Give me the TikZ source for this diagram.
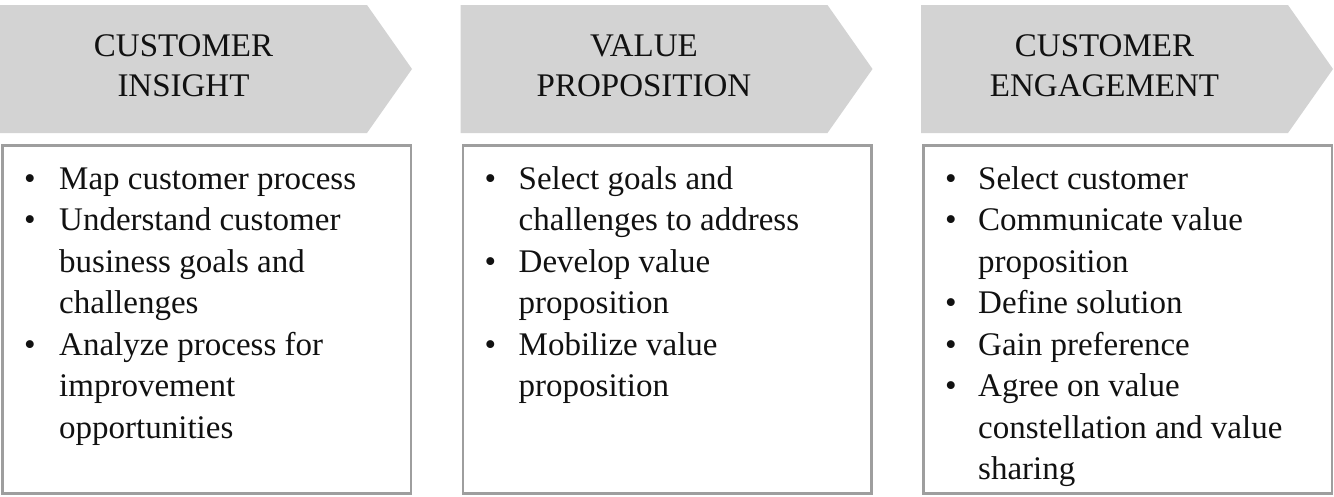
\documentclass[tikz,border=0pt]{standalone}
\usepackage{fontspec}
\setmainfont{Liberation Serif}
\usepackage{array}
\definecolor{chevron}{HTML}{D3D3D3}
\definecolor{frame}{HTML}{9E9E9E}
\definecolor{ink}{HTML}{111111}
\newcommand{\bl}{\textbullet}
\begin{document}
\begin{tikzpicture}[x=1pt,y=-1pt,
  chev/.style={fill=chevron,draw=none},
  framebox/.style={draw=frame,line width=2.5pt},
  head/.style={align=center,text=ink,inner sep=0pt,anchor=center,
    font=\fontsize{33}{40}\selectfont},
  items/.style={anchor=north west,inner sep=0pt,text=ink,
    font=\fontsize{33}{41.5}\selectfont}]
\useasboundingbox (0,0) rectangle (1334,496);

% chevrons
\foreach \o in {0,460.5,921}{
  \path[chev] (\o,5) -- (\o+367,5) -- (\o+412,69) -- (\o+367,133) -- (\o,133) -- cycle;
  \draw[framebox] (\o+2.5,145.5) rectangle (\o+411,493.5);
}

\node[head] (h1) at (183.5,66) {CUSTOMER\\INSIGHT};
\node[head] (h2) at (644,66) {VALUE\\PROPOSITION};
\node[head] (h3) at (1104.5,66) {CUSTOMER\\ENGAGEMENT};

\node[items] (b1) at (24,160) {\begin{tabular}{@{}p{35pt}@{}l@{}}
\bl & Map customer process\\
\bl & Understand customer\\
    & business goals and\\
    & challenges\\
\bl & Analyze process for\\
    & improvement\\
    & opportunities
\end{tabular}};

\node[items] (b2) at (484.5,160) {\begin{tabular}{@{}p{34pt}@{}l@{}}
\bl & Select goals and\\
    & challenges to address\\
\bl & Develop value\\
    & proposition\\
\bl & Mobilize value\\
    & proposition
\end{tabular}};

\node[items] (b3) at (945,160) {\begin{tabular}{@{}p{33pt}@{}l@{}}
\bl & Select customer\\
\bl & Communicate value\\
    & proposition\\
\bl & Define solution\\
\bl & Gain preference\\
\bl & Agree on value\\
    & constellation and value\\
    & sharing
\end{tabular}};
\end{tikzpicture}
\end{document}
